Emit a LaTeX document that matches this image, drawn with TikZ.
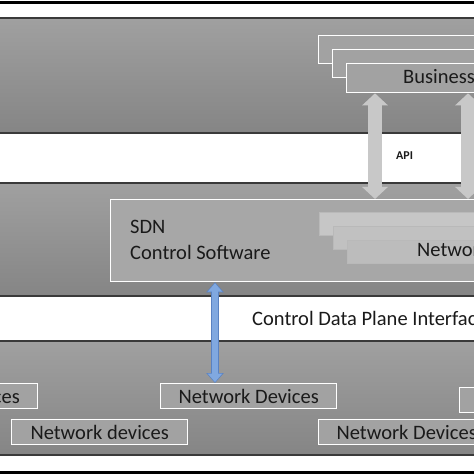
\documentclass[tikz,border=0pt]{standalone}
\usepackage{fontspec}
\setmainfont{Carlito}
\usetikzlibrary{arrows.meta}
\definecolor{bandtop}{HTML}{A0A0A0}
\definecolor{bandbot}{HTML}{858585}
\definecolor{bandline}{HTML}{3A3A3A}
\definecolor{boxfill}{HTML}{A2A2A2}
\definecolor{sdnfill}{HTML}{A7A7A7}
\definecolor{appfillA}{HTML}{C6C6C6}
\definecolor{appfillB}{HTML}{C1C1C1}
\definecolor{appfillC}{HTML}{BCBCBC}
\definecolor{apiarrow}{HTML}{C8C8C8}
\definecolor{bluefill}{HTML}{80A8E0}
\definecolor{blueline}{HTML}{5A82C2}
\definecolor{txt}{HTML}{1A1A1A}
\tikzset{
  band/.style={top color=bandtop, bottom color=bandbot, draw=bandline, line width=1.3bp},
  whitebox/.style={rectangle, draw=white, line width=1.3bp, fill=boxfill, inner sep=0pt, anchor=north west},
  appbox/.style={rectangle, draw=gray!55, line width=0.4bp, inner sep=0pt, anchor=north west},
  bigtxt/.style={text=txt, font=\fontsize{20.5bp}{24bp}\selectfont, inner sep=0pt},
  apitxt/.style={text=txt, font=\bfseries\fontsize{12bp}{14bp}\selectfont, inner sep=0pt},
  grayarrow/.style={draw=apiarrow, line width=14bp, {Triangle[width=25bp,length=12bp]}-{Triangle[width=25bp,length=12bp]}},
  bluearrowout/.style={draw=blueline, line width=7.6bp, {Triangle[width=17bp,length=10bp]}-{Triangle[width=17bp,length=10bp]}},
  bluearrowin/.style={draw=bluefill, line width=5.4bp, {Triangle[width=14bp,length=8.5bp]}-{Triangle[width=14bp,length=8.5bp]}},
}
\begin{document}
\begin{tikzpicture}[x=1bp,y=-1bp]
\useasboundingbox (0,0) rectangle (474,474);
\clip (0,0) rectangle (474,474);
\fill[white] (0,0) rectangle (474,474);
% top and bottom rules
\fill[black] (-5,0.6) rectangle (480,3.6);
\fill[black] (-5,470.8) rectangle (480,474);
% bands
\shade[band] (-5,18) rectangle (480,133);
\shade[band] (-5,183) rectangle (480,296);
\shade[band] (-5,341) rectangle (480,455);
% business application boxes
\node[whitebox, minimum width=200bp, minimum height=28bp] (biz1) at (318,35) {};
\node[whitebox, minimum width=200bp, minimum height=28bp] (biz2) at (332,49) {};
\node[whitebox, minimum width=200bp, minimum height=29bp] (biz3) at (346,63) {};
\node[bigtxt, anchor=base west] (biztxt) at (403,84) {Business};
% SDN control box
\node[whitebox, fill=sdnfill, minimum width=420bp, minimum height=82bp] (sdn) at (110,199) {};
\node[bigtxt, anchor=base west] (sdntxt) at (130,234) {SDN};
\node[bigtxt, anchor=base west] (cstxt) at (130,259) {Control Software};
% network application boxes
\node[appbox, fill=appfillA, minimum width=200bp, minimum height=23bp] (napp1) at (319,212) {};
\node[appbox, fill=appfillB, minimum width=200bp, minimum height=23bp] (napp2) at (333,226) {};
\node[appbox, fill=appfillC, minimum width=200bp, minimum height=23bp] (napp3) at (347,240) {};
\node[bigtxt, anchor=base west] (nettxt) at (417,256) {Network};
% API
\coordinate (xa) at (375,0);
\coordinate (xb) at (468,0);
\draw[grayarrow] (biz3.south -| xa) -- (sdn.north -| xa);
\draw[grayarrow] (biz3.south -| xb) -- (sdn.north -| xb);
\node[apitxt, anchor=base west] (api) at (396,160) {API};
% control data plane interface
\node[bigtxt, anchor=base west] (cdpi) at (252,325) {Control Data Plane Interface};
% network devices
\node[whitebox, minimum width=176bp, minimum height=25bp, bigtxt] (nd0) at (-139,383) {Network Devices};
\node[whitebox, minimum width=176bp, minimum height=25bp, bigtxt] (nd1) at (160,383) {Network Devices};
\node[whitebox, minimum width=176bp, minimum height=25bp] (nd2) at (459,387) {};
\node[whitebox, minimum width=176bp, minimum height=25bp, bigtxt] (nd3) at (11,419) {Network devices};
\node[whitebox, minimum width=176bp, minimum height=25bp, bigtxt] (nd4) at (318,419) {Network Devices};
% blue arrow
\coordinate (xc) at (215,0);
\draw[bluearrowout] (sdn.south -| xc) -- (nd1.north -| xc);
\draw[bluearrowin] ([yshift=-0.9bp]sdn.south -| xc) -- ([yshift=0.9bp]nd1.north -| xc);
\end{tikzpicture}
\end{document}
